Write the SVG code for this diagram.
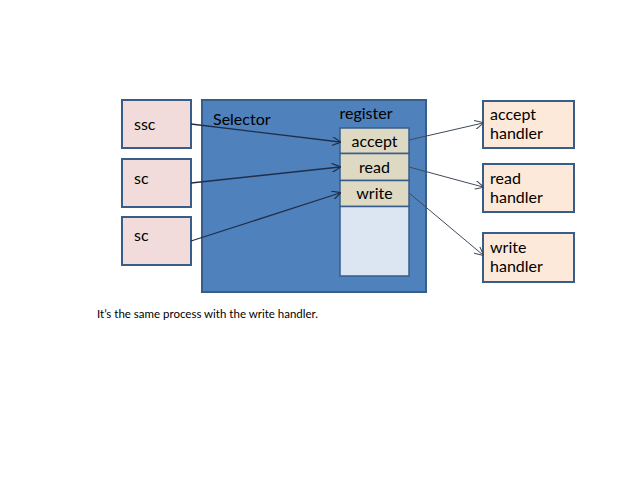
<svg xmlns="http://www.w3.org/2000/svg" width="638" height="478" viewBox="0 0 638 478">
<style>
text{font-family:Lato,"Open Sans","Liberation Sans",sans-serif;fill:#000}
.lbl{font-size:16px}
.ch{fill:#F2DCDB;stroke:#385D8A;stroke-width:2}
.hd{fill:#FDE9D9;stroke:#385D8A;stroke-width:2}
.cell{fill:#DDD9C3;stroke:#385D8A;stroke-width:1.5}
.ln{fill:none;stroke:#1F2F4A;stroke-width:1.3}
.ln2{fill:none;stroke:#404A5A;stroke-width:1}
</style>
<defs>
<marker id="a" viewBox="0 0 10 10" refX="9" refY="5" markerWidth="9" markerHeight="9" markerUnits="userSpaceOnUse" orient="auto"><path d="M0,0 L10,5 L0,10" fill="none" stroke="#1F2F4A" stroke-width="1.3"/></marker>
<marker id="b" viewBox="0 0 10 10" refX="9" refY="5" markerWidth="9" markerHeight="9" markerUnits="userSpaceOnUse" orient="auto"><path d="M0,0 L10,5 L0,10" fill="none" stroke="#404A5A" stroke-width="1.2"/></marker>
</defs>
<rect width="638" height="478" fill="#fff"/>
<g id="selector">
<rect x="202" y="100" width="224" height="192" fill="#4F81BD" stroke="#385D8A" stroke-width="2"/>
<text x="213" y="125" class="lbl" font-size="17">Selector</text>
<text x="366" y="119" class="lbl" text-anchor="middle" font-size="17">register</text>
</g>
<g id="register">
<rect x="340" y="128" width="69" height="25.5" class="cell"/>
<text x="374.5" y="147" class="lbl" text-anchor="middle">accept</text>
<rect x="340" y="153.5" width="69" height="27" class="cell"/>
<text x="374.5" y="173" class="lbl" text-anchor="middle">read</text>
<rect x="340" y="180.5" width="69" height="26" class="cell"/>
<text x="374.5" y="199" class="lbl" text-anchor="middle">write</text>
<rect x="340" y="206.5" width="69" height="69.5" fill="#DCE6F2" stroke="#385D8A" stroke-width="1.5"/>
</g>
<g id="ssc"><rect x="122" y="100" width="69" height="48" class="ch"/><text x="134" y="130" class="lbl">ssc</text></g>
<g id="sc1"><rect x="122" y="159" width="69" height="48" class="ch"/><text x="134" y="184" class="lbl">sc</text></g>
<g id="sc2"><rect x="122" y="217" width="69" height="48" class="ch"/><text x="134" y="241" class="lbl">sc</text></g>
<g id="accept-handler"><rect x="483" y="101" width="91" height="47" class="hd"/><text class="lbl"><tspan x="490" y="120">accept</tspan><tspan x="490" y="139">handler</tspan></text></g>
<g id="read-handler"><rect x="483" y="164" width="91" height="48" class="hd"/><text class="lbl"><tspan x="490" y="184">read</tspan><tspan x="490" y="203">handler</tspan></text></g>
<g id="write-handler"><rect x="483" y="233" width="91" height="49" class="hd"/><text class="lbl"><tspan x="490" y="253">write</tspan><tspan x="490" y="272">handler</tspan></text></g>
<g id="connectors">
<path d="M191,124 L340,142" class="ln" marker-end="url(#a)"/>
<path d="M191,183 L340,167" class="ln" marker-end="url(#a)"/>
<path d="M191,241 L340,193" class="ln" marker-end="url(#a)"/>
<path d="M409,140 L483,123" class="ln2" marker-end="url(#b)"/>
<path d="M409,167 L483,187" class="ln2" marker-end="url(#b)"/>
<path d="M409,193 L483,255" class="ln2" marker-end="url(#b)"/>
</g>
<text x="97" y="318" font-size="11.5">It’s the same process with the write handler.</text>
</svg>
